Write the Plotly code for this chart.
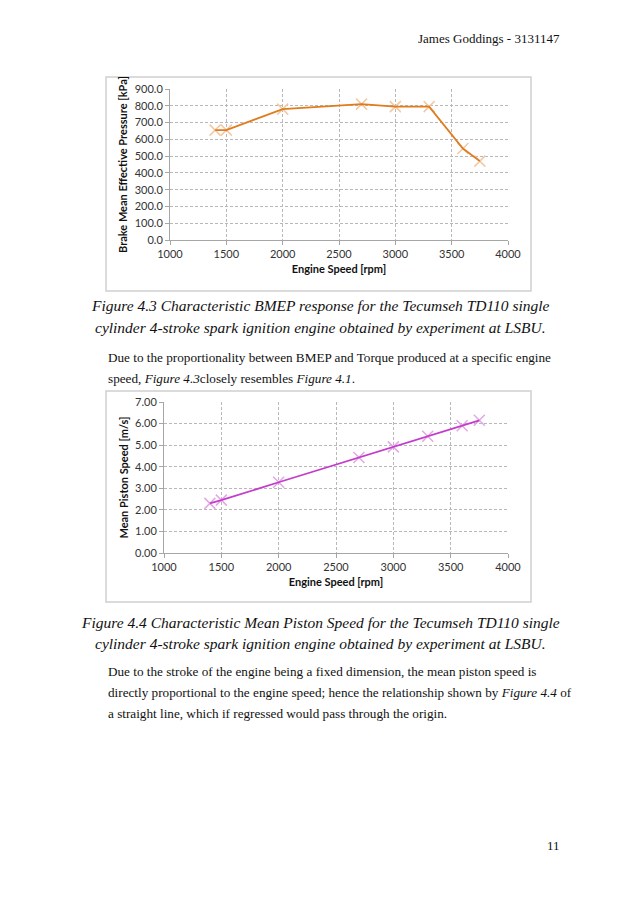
import plotly.graph_objects as go

# the page body has an 8px margin, so the figure is drawn 16px smaller
PAD = 8
W, H = 638 - 2 * PAD, 902 - 2 * PAD

# Engine test data
engine_speed = [1400, 1500, 2000, 2700, 3000, 3300, 3600, 3750]
bmep_kpa = [655, 655, 780, 810, 795, 795, 545, 470]
piston_speed = [2.30, 2.45, 3.28, 4.43, 4.92, 5.41, 5.90, 6.15]


def px(x):
    return (x - PAD) / W


def py(y):
    return 1 - (y - PAD) / H


fig = go.Figure()

# BMEP chart
fig.add_trace(go.Scatter(x=engine_speed, y=bmep_kpa, mode='markers',
                         marker=dict(symbol='x-thin', size=11, line=dict(color='#f3c9a4', width=1.5)),
                         xaxis='x', yaxis='y', showlegend=False))
fig.add_trace(go.Scatter(x=engine_speed, y=bmep_kpa, mode='lines',
                         line=dict(color='#e07b1f', width=1.8),
                         xaxis='x', yaxis='y', showlegend=False))

# mean piston speed chart
fig.add_trace(go.Scatter(x=engine_speed, y=piston_speed, mode='markers',
                         marker=dict(symbol='x-thin', size=11, line=dict(color='#e3a8e6', width=1.5)),
                         xaxis='x2', yaxis='y2', showlegend=False))
fig.add_trace(go.Scatter(x=engine_speed, y=piston_speed, mode='lines',
                         line=dict(color='#c43ccc', width=1.8),
                         xaxis='x2', yaxis='y2', showlegend=False))

tick_font = dict(family='Lato, Liberation Sans, sans-serif', size=11, color='#333333')
title_font = dict(family='Lato, Liberation Sans, sans-serif', size=11, color='#111111')

common_x = dict(range=[1000, 4000], dtick=500, showgrid=True, gridcolor='#b8b8b8', griddash='3px,2px',
                gridwidth=1, showline=True, linecolor='#a6a6a6', linewidth=1, ticks='outside',
                ticklen=4, tickcolor='#a6a6a6', zeroline=False, tickfont=tick_font, fixedrange=True,
                automargin=False)
common_y = dict(showgrid=True, gridcolor='#b8b8b8', griddash='3px,2px', gridwidth=1, showline=True,
                linecolor='#a6a6a6', linewidth=1, ticks='outside', ticklen=4, tickcolor='#a6a6a6',
                zeroline=False, tickfont=tick_font, fixedrange=True, automargin=False)

fig.update_layout(
    width=W, height=H,
    margin=dict(l=0, r=0, t=0, b=0),
    paper_bgcolor='white', plot_bgcolor='white',
    xaxis=dict(common_x, domain=[px(170), px(508)], anchor='y',
               title=dict(text='<b>Engine Speed [rpm]</b>', font=title_font, standoff=6)),
    yaxis=dict(common_y, domain=[py(240), py(89)], anchor='x', range=[0, 900], dtick=100,
               tickformat='.1f',
               title=dict(text='<b>Brake Mean Effective Pressure [kPa]</b>', font=title_font, standoff=4)),
    xaxis2=dict(common_x, domain=[px(164), px(508)], anchor='y2',
                title=dict(text='<b>Engine Speed [rpm]</b>', font=title_font, standoff=6)),
    yaxis2=dict(common_y, domain=[py(553), py(402)], anchor='x2', range=[0, 7], dtick=1,
                tickformat='.2f',
                title=dict(text='<b>Mean Piston Speed [m/s]</b>', font=title_font, standoff=4)),
)

# chart frames
for top, bottom in [(77, 291), (391, 602)]:
    fig.add_shape(type='rect', xref='paper', yref='paper',
                  x0=px(106), x1=px(531), y0=py(bottom), y1=py(top),
                  line=dict(color='#d0d0d0', width=1.5), fillcolor='rgba(0,0,0,0)', layer='below')

serif = 'Liberation Serif, DejaVu Serif, serif'


def text(x, y, s, size=13.2, anchor='left'):
    fig.add_annotation(x=px(x), y=py(y), xref='paper', yref='paper', text=s, showarrow=False,
                       xanchor=anchor, yanchor='middle', borderpad=0,
                       font=dict(family=serif, size=size, color='#111111'))


text(561, 38, 'James Goddings - 3131147', 13, 'right')

text(320, 305, '<i>Figure 4.3 Characteristic BMEP response for the Tecumseh TD110 single</i>', 15.5, 'center')
text(320, 327, '<i>cylinder 4-stroke spark ignition engine obtained by experiment at LSBU.</i>', 15.5, 'center')

text(107, 357, 'Due to the proportionality between BMEP and Torque produced at a specific engine')
text(107, 378, 'speed, <i>Figure 4.3</i>closely resembles <i>Figure 4.1</i>.')

text(320, 622, '<i>Figure 4.4 Characteristic Mean Piston Speed for the Tecumseh TD110 single</i>', 15.5, 'center')
text(320, 643, '<i>cylinder 4-stroke spark ignition engine obtained by experiment at LSBU.</i>', 15.5, 'center')

text(107, 671, 'Due to the stroke of the engine being a fixed dimension, the mean piston speed is')
text(107, 692, 'directly proportional to the engine speed; hence the relationship shown by <i>Figure 4.4</i> of')
text(107, 713, 'a straight line, which if regressed would pass through the origin.')

text(561, 845, '11', 13, 'right')

fig.write_html("out.html")
